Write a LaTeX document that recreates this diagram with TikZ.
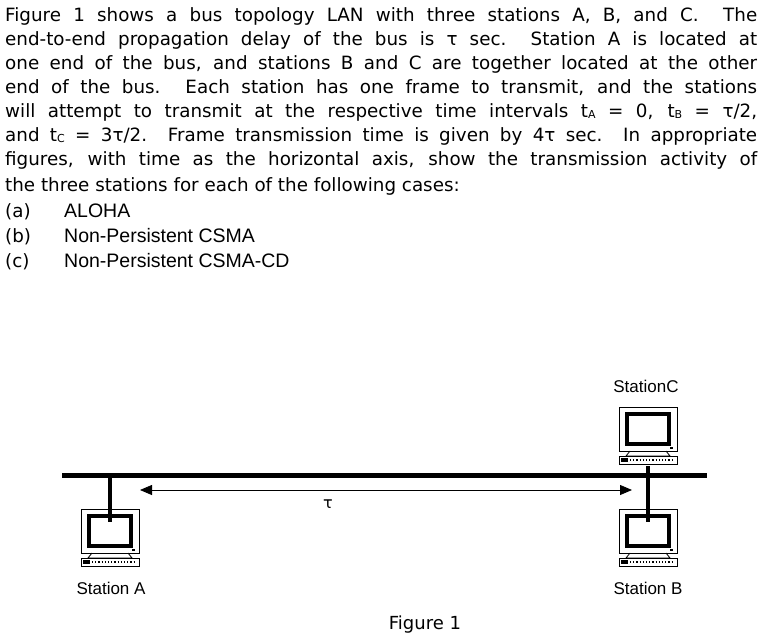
\documentclass[tikz,border=0pt]{standalone}
\usepackage{fontspec}
\setmainfont{DejaVu Sans}
\newfontfamily\arial{Liberation Sans}
\usetikzlibrary{arrows.meta}
\newcommand{\jline}[1]{\makebox[752pt][s]{#1}}
\newcommand{\sbs}[1]{{\fontsize{11}{12}\selectfont\raisebox{-0.25ex}{#1}}}
\tikzset{
  txt/.style={anchor=west,inner sep=0pt,font=\fontsize{18.3}{20}\selectfont},
  itm/.style={anchor=base west,inner sep=0pt,font=\fontsize{18.3}{20}\selectfont},
  itx/.style={anchor=base west,inner sep=0pt,font=\arial\fontsize{19.5}{21}\selectfont},
  lbl/.style={inner sep=0pt,font=\arial\fontsize{17}{19}\selectfont},
  pics/monitor/.style={code={
    \draw[line width=0.8pt,fill=white] (-29,-22) rectangle (29,22);
    \draw[line width=4.5pt] (-21,-15) rectangle (21,15);
    \fill (22,18) rectangle (25,20);
    \draw[line width=0.8pt] (-18,22) -- (-22,27) -- (22,27) -- (18,22);
    \draw[line width=0.8pt,fill=white] (-29,27) rectangle (29,35);
    \draw[line width=1.2pt,dotted] (-18,31) -- (26,31);
    \fill (-27,29) rectangle (-20,33);
  }}
}
\begin{document}
\begin{tikzpicture}[x=1pt,y=-1pt]
\useasboundingbox (0,0) rectangle (770,644);
\node[txt] (l1) at (5,16) {\jline{Figure 1 shows a bus topology LAN with three stations A, B, and C.\ \ The}};
\node[txt] (l2) at (5,40) {\jline{end-to-end propagation delay of the bus is τ sec.\ \ Station A is located at}};
\node[txt] (l3) at (5,64) {\jline{one end of the bus, and stations B and C are together located at the other}};
\node[txt] (l4) at (5,88) {\jline{end of the bus. Each station has one frame to transmit, and the stations}};
\node[txt] (l5) at (5,112) {\jline{will attempt to transmit at the respective time intervals t\sbs{A} = 0, t\sbs{B} = τ/2,}};
\node[txt] (l6) at (5,136) {\jline{and t\sbs{C} = 3τ/2.\ \ Frame transmission time is given by 4τ sec.\ \ In appropriate}};
\node[txt] (l7) at (5,160) {\jline{figures, with time as the horizontal axis, show the transmission activity of}};
\node[txt] (l8) at (5,186) {the three stations for each of the following cases:};
\node[itm] (a1) at (5,218) {(a)};
\node[itx] (a2) at (64,218) {ALOHA};
\node[itm] (b1) at (5,243) {(b)};
\node[itx] (b2) at (64,243) {Non-Persistent CSMA};
\node[itm] (c1) at (5,267) {(c)};
\node[itx] (c2) at (64,267) {Non-Persistent CSMA-CD};

\coordinate (bl) at (62,475);
\coordinate (br) at (707,475);
\draw[line width=5pt] (bl) -- (br);
\pic at (110,531) {monitor};
\pic at (648,429) {monitor};
\pic at (648,531) {monitor};
\coordinate (ta) at (110,475);
\coordinate (aa) at (110,522);
\draw[line width=4pt] (ta) -- (aa);
\coordinate (tc) at (648,466);
\coordinate (bb) at (648,522);
\draw[line width=4pt] (tc) -- (bb);
\coordinate (ar1) at (140,490);
\coordinate (ar2) at (632,490);
\draw[line width=0.8pt,{Triangle[length=12pt,width=10pt]}-{Triangle[length=12pt,width=10pt]}] (ar1) -- (ar2);
\node[inner sep=0pt,font=\fontsize{16}{18}\selectfont] (tau) at (328,504) {τ};
\node[lbl] (sa) at (111,588) {Station A};
\node[lbl] (sb) at (648,588) {Station B};
\node[lbl] (sc) at (646,386) {StationC};
\node[inner sep=0pt,font=\fontsize{18}{20}\selectfont] (fig) at (425,625) {Figure 1};
\end{tikzpicture}
\end{document}
